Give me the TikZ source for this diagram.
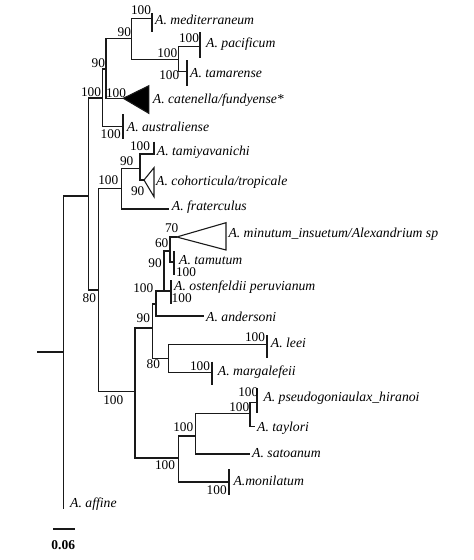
\documentclass[tikz,border=0pt]{standalone}
\usepackage{fontspec}
\setmainfont{Liberation Serif}
\usetikzlibrary{calc}
\begin{document}
\begin{tikzpicture}[x=1pt,y=-1pt,
  branch/.style={line width=1.1pt, draw=black!90},
  barline/.style={line width=1.7pt, draw=black!90},
  stemline/.style={line width=1.8pt, draw=black!90},
  tri/.style={line width=1.1pt, draw=black!90},
  leaf/.style={anchor=base west, inner sep=0pt, font=\fontsize{13.7}{16}\selectfont\itshape},
  boot/.style={inner sep=0pt, font=\fontsize{13.3}{16}\selectfont}]
\useasboundingbox (0,0) rectangle (474,560);
% internal nodes and leaf ends
\coordinate (R) at (63.3,352);
\coordinate (stem) at (37.3,352);
\coordinate (affE) at (63.3,509);
\coordinate (A) at (88.3,196);
\coordinate (B) at (102.7,98);
\coordinate (C) at (106,69);
\coordinate (D) at (131.7,38.5);
\coordinate (E) at (178.3,59.3);
\coordinate (medE) at (151.7,18.3);
\coordinate (pacE) at (200,46.7);
\coordinate (tamE) at (186.7,71.7);
\coordinate (catE) at (123.3,98.3);
\coordinate (ausE) at (122.7,126.7);
\coordinate (F) at (98.3,290);
\coordinate (G) at (121.7,188.3);
\coordinate (H) at (140,168.3);
\coordinate (tmyE) at (154,154);
\coordinate (cohE) at (144,180);
\coordinate (fraE) at (169.3,209);
\coordinate (I) at (135,391.7);
\coordinate (J) at (152.7,328);
\coordinate (K) at (156,304);
\coordinate (L) at (164,291);
\coordinate (M) at (170,251);
\coordinate (minE) at (176.7,237);
\coordinate (tmtE) at (174,262);
\coordinate (ostE) at (170.7,291);
\coordinate (andE) at (204,316);
\coordinate (N) at (168.3,358.3);
\coordinate (leeE) at (266.7,344.3);
\coordinate (marE) at (211.7,372.7);
\coordinate (O) at (178.3,458);
\coordinate (P) at (195.7,436);
\coordinate (Q) at (250,413.3);
\coordinate (pseE) at (256.7,402.3);
\coordinate (tayE) at (255,426.7);
\coordinate (satE) at (250,454);
\coordinate (monE) at (229.3,482);
% branches
\draw[branch] (R) |- (A); \draw[branch] (R) |- (affE);
\draw[branch] (A) |- (B); \draw[branch] (A) |- (F);
\draw[branch] (B) |- (C); \draw[branch] (B) |- (ausE);
\draw[branch] (C) |- (D); \draw[branch] (C) |- (catE);
\draw[branch] (D) |- (medE); \draw[branch] (D) |- (E);
\draw[branch] (E) |- (pacE); \draw[branch] (E) |- (tamE);
\draw[branch] (F) |- (G); \draw[branch] (F) |- (I);
\draw[branch] (G) |- (H); \draw[branch] (G) |- (fraE);
\draw[branch] (H) |- (tmyE); \draw[branch] (H) |- (cohE);
\draw[branch] (I) |- (J); \draw[branch] (I) |- (O);
\draw[branch] (J) |- (K); \draw[branch] (J) |- (N);
\draw[branch] (K) |- (L); \draw[branch] (K) |- (andE);
\draw[branch] (L) |- (M); \draw[branch] (L) |- (ostE);
\draw[branch] (M) |- (minE); \draw[branch] (M) |- (tmtE);
\draw[branch] (N) |- (leeE); \draw[branch] (N) |- (marE);
\draw[branch] (O) |- (P); \draw[branch] (O) |- (monE);
\draw[branch] (P) |- (Q); \draw[branch] (P) |- (satE);
\draw[branch] (Q) |- (pseE); \draw[branch] (Q) |- (tayE);
\draw[stemline] (stem) -- (R);
% collapsed clades (bars)
\draw[barline] ($(medE)+(0,-5)$) -- ($(medE)+(0,13.4)$);
\draw[barline] ($(pacE)+(0,-14.4)$) -- ($(pacE)+(0,11.6)$);
\draw[barline] ($(tamE)+(0,-11.7)$) -- ($(tamE)+(0,14.3)$);
\draw[barline] ($(ausE)+(0,-12.4)$) -- ($(ausE)+(0,12.3)$);
\draw[barline] ($(tmyE)+(0,-12.3)$) -- ($(tmyE)+(0,1)$);
\draw[barline] ($(tmtE)+(0,-11)$) -- ($(tmtE)+(0,13)$);
\draw[barline] ($(ostE)+(0,-11)$) -- ($(ostE)+(0,13)$);
\draw[barline] ($(leeE)+(0,-9.3)$) -- ($(leeE)+(0,14)$);
\draw[barline] ($(marE)+(0,-11)$) -- ($(marE)+(0,12.3)$);
\draw[barline] ($(pseE)+(0,-14.3)$) -- ($(pseE)+(0,10.7)$);
\draw[barline] ($(monE)+(0,-13)$) -- ($(monE)+(0,13)$);
% collapsed clades (triangles)
\filldraw[tri, fill=black] (catE) -- ($(catE)+(25.5,-12.5)$) -- ($(catE)+(25.5,15)$) -- cycle;
\draw[tri] (cohE) -- ($(cohE)+(10,-12.3)$) -- ($(cohE)+(10,16.7)$) -- cycle;
\draw[tri] (minE) -- ($(minE)+(49.3,-14.3)$) -- ($(minE)+(49.3,13)$) -- cycle;
% leaf labels
\node[leaf] (tmed) at (155,24.5) {A. mediterraneum};
\node[leaf] (tpac) at (206,47.8) {A. pacificum};
\node[leaf] (ttam) at (190,77.8) {A. tamarense};
\node[leaf] (tcat) at (152.7,103.8) {A. catenella/fundyense*};
\node[leaf] (taus) at (126.7,131.2) {A. australiense};
\node[leaf] (ttmy) at (156.7,155.2) {A. tamiyavanichi};
\node[leaf] (tcoh) at (156,185.2) {A. cohorticula/tropicale};
\node[leaf] (tfra) at (171.7,210) {A. fraterculus};
\node[leaf] (tmin) at (228.3,237.8) {A. minutum\_insuetum/Alexandrium sp};
\node[leaf] (ttmt) at (179,264.2) {A. tamutum};
\node[leaf] (tost) at (174,290.8) {A. ostenfeldii peruvianum};
\node[leaf] (tand) at (206,321.2) {A. andersoni};
\node[leaf] (tlee) at (270.7,347.8) {A. leei};
\node[leaf] (tmar) at (217.7,375.2) {A. margalefeii};
\node[leaf] (tpse) at (263.3,401.8) {A. pseudogoniaulax\_hiranoi};
\node[leaf] (ttay) at (257,431.2) {A. taylori};
\node[leaf] (tsat) at (252,457.2) {A. satoanum};
\node[leaf] (tmon) at (233.3,485.2) {A.monilatum};
\node[leaf] (taff) at (70,507.5) {A. affine};
% bootstrap values
\node[boot] (b1) at (141,10) {100};
\node[boot] (b2) at (124.3,32.3) {90};
\node[boot] (b3) at (189,38.3) {100};
\node[boot] (b4) at (167.3,52.7) {100};
\node[boot] (b5) at (169.3,75) {100};
\node[boot] (b6) at (98.3,62.7) {90};
\node[boot] (b7) at (91,91.7) {100};
\node[boot] (b8) at (116,92.7) {100};
\node[boot] (b9) at (110.7,134.3) {100};
\node[boot] (b10) at (140,145.7) {100};
\node[boot] (b11) at (126.7,160.7) {90};
\node[boot] (b12) at (108.3,180) {100};
\node[boot] (b13) at (137.7,191) {90};
\node[boot] (b14) at (171.7,228.3) {70};
\node[boot] (b15) at (161.7,243.3) {60};
\node[boot] (b16) at (155,263.3) {90};
\node[boot] (b17) at (186,272) {100};
\node[boot] (b18) at (143.3,288.3) {100};
\node[boot] (b19) at (181.7,298.6) {100};
\node[boot] (b20) at (89.3,298.3) {80};
\node[boot] (b21) at (143.3,318.3) {90};
\node[boot] (b22) at (255,336.7) {100};
\node[boot] (b23) at (153.3,364) {80};
\node[boot] (b24) at (200,366) {100};
\node[boot] (b25) at (113.3,400) {100};
\node[boot] (b26) at (248.3,391.7) {100};
\node[boot] (b27) at (239.3,407.3) {100};
\node[boot] (b28) at (183.3,426.7) {100};
\node[boot] (b29) at (165,465) {100};
\node[boot] (b30) at (216.7,490) {100};
% scale bar
\coordinate (s1) at (53.3,529.3);
\coordinate (s2) at (75,529.3);
\draw[stemline] (s1) -- (s2);
\node[inner sep=0pt, font=\fontsize{13.5}{16}\selectfont\bfseries] (scale) at (63.3,545) {0.06};
\end{tikzpicture}
\end{document}
